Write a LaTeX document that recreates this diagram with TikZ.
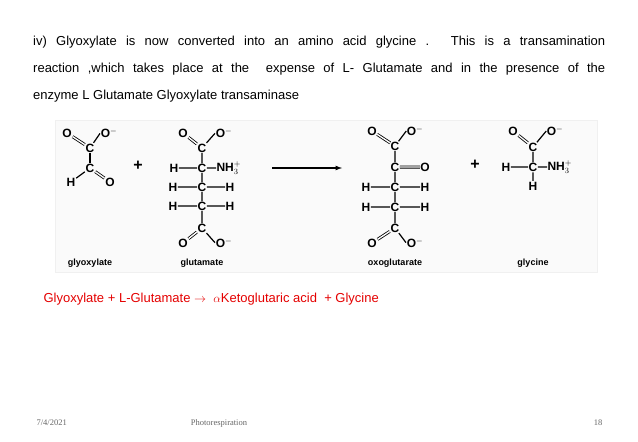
\documentclass[tikz,border=0pt]{standalone}
\usepackage{fontspec}
\setmainfont{Liberation Sans}
\newfontfamily\serifft{Liberation Serif}
\begin{document}
\begin{tikzpicture}[x=1pt,y=-1pt,
  atm/.style={font=\bfseries\fontsize{12}{12}\selectfont,inner sep=0.3pt},
  bd/.style={line width=1.2pt,shorten >=0.5pt,shorten <=0.5pt},
  dbd/.style={double=black!2,line width=0.8pt,double distance=1.4pt,shorten >=0.5pt,shorten <=0.5pt},
  lab/.style={font=\bfseries\fontsize{9}{10}\selectfont}]
\useasboundingbox (0,0) rectangle (638,442);
\fill[white] (0,0) rectangle (638,442);
\node[anchor=north west,text width=572pt,align=justify,inner sep=0pt,font=\fontsize{13}{27}\selectfont] (txt) at (33,36)
{iv) Glyoxylate is now converted into an amino acid glycine . This is a transamination\linebreak reaction ,which takes place at the\ \ expense of L- Glutamate and in the presence of the\linebreak enzyme L Glutamate Glyoxylate transaminase};
\node[fill=black!2,draw=black!6,minimum width=542pt,minimum height=152pt,anchor=north west,inner sep=0pt] (box) at (55,120) {};
% glyoxylate
\node[atm] (g1) at (90,148) {C}; \node[atm] (g1a) at (67,133) {O}; \node[atm] (g1b) at (109,133) {O$^{\mathbf-}$};
\node[atm] (g2) at (90,168) {C}; \node[atm] (g2h) at (71,182) {H}; \node[atm] (g2o) at (110,182) {O};
\draw[dbd] (g1)--(g1a); \draw[bd] (g1)--(g1b.west); \draw[bd] (g1)--(g2);
\draw[bd] (g2)--(g2h); \draw[dbd] (g2)--(g2o);
\node[lab] (l1) at (90,263) {glyoxylate};
\node[font=\bfseries\fontsize{16}{16}\selectfont] (p1) at (138,166) {+};
% glutamate
\node[atm] (u1) at (202,148) {C}; \node[atm] (u1a) at (183,133) {O}; \node[atm] (u1b) at (224,133) {O$^{\mathbf-}$};
\node[atm] (u2) at (202,168) {C}; \node[atm] (u2h) at (174,168) {H}; \node[atm,anchor=west] (u2n) at (216,168) {NH$_3^+$};
\node[atm] (u3) at (202,187) {C}; \node[atm] (u3h) at (173,187) {H}; \node[atm] (u3k) at (230,187) {H};
\node[atm] (u4) at (202,206) {C}; \node[atm] (u4h) at (173,206) {H}; \node[atm] (u4k) at (230,206) {H};
\node[atm] (u5) at (202,228) {C}; \node[atm] (u5a) at (183,243) {O}; \node[atm] (u5b) at (224,243) {O$^{\mathbf-}$};
\draw[dbd] (u1)--(u1a); \draw[bd] (u1)--(u1b.west);
\draw[bd] (u1)--(u2) (u2)--(u3) (u3)--(u4) (u4)--(u5) (u2)--(u2h) (u2)--(u2n.west) (u3)--(u3h) (u3)--(u3k) (u4)--(u4h) (u4)--(u4k) (u5)--(u5b.west);
\draw[dbd] (u5)--(u5a);
\node[lab] (l2) at (202,263) {glutamate};
% arrow
\coordinate (a1) at (272,168); \coordinate (a2) at (342,168);
\draw[line width=1.2pt,-latex] (a1)--(a2);
% oxoglutarate
\node[atm] (o1) at (395,146) {C}; \node[atm] (o1a) at (372,131) {O}; \node[atm] (o1b) at (415,131) {O$^{\mathbf-}$};
\node[atm] (o2) at (395,167) {C}; \node[atm] (o2o) at (425,167) {O};
\node[atm] (o3) at (395,187) {C}; \node[atm] (o3h) at (366,187) {H}; \node[atm] (o3k) at (425,187) {H};
\node[atm] (o4) at (395,207) {C}; \node[atm] (o4h) at (366,207) {H}; \node[atm] (o4k) at (425,207) {H};
\node[atm] (o5) at (395,228) {C}; \node[atm] (o5a) at (372,243) {O}; \node[atm] (o5b) at (415,243) {O$^{\mathbf-}$};
\draw[dbd] (o1)--(o1a) (o2)--(o2o) (o5)--(o5a);
\draw[bd] (o1)--(o1b.west) (o1)--(o2) (o2)--(o3) (o3)--(o4) (o4)--(o5) (o3)--(o3h) (o3)--(o3k) (o4)--(o4h) (o4)--(o4k) (o5)--(o5b.west);
\node[lab] (l3) at (395,263) {oxoglutarate};
\node[font=\bfseries\fontsize{16}{16}\selectfont] (p2) at (475,165) {+};
% glycine
\node[atm] (y1) at (533,147) {C}; \node[atm] (y1a) at (513,131) {O}; \node[atm] (y1b) at (555,131) {O$^{\mathbf-}$};
\node[atm] (y2) at (533,167) {C}; \node[atm] (y2h) at (506,167) {H}; \node[atm,anchor=west] (y2n) at (547,167) {NH$_3^+$};
\node[atm] (y3) at (533,186) {H};
\draw[dbd] (y1)--(y1a);
\draw[bd] (y1)--(y1b.west) (y1)--(y2) (y2)--(y2h) (y2)--(y2n.west) (y2)--(y3);
\node[lab] (l4) at (533,263) {glycine};
% equation
\node[anchor=west,text=red!90!black,font=\fontsize{13}{15}\selectfont] (eq) at (40,299)
{Glyoxylate + L-Glutamate $\rightarrow$\ \ $\alpha$Ketoglutaric acid\ \ + Glycine};
% footer
\node[anchor=west,font=\serifft\fontsize{8.5}{9}\selectfont,text=black!60] (f1) at (33,423) {7/4/2021};
\node[font=\serifft\fontsize{8.5}{9}\selectfont,text=black!60] (f2) at (219,423) {Photorespiration};
\node[anchor=east,font=\serifft\fontsize{8.5}{9}\selectfont,text=black!60] (f3) at (606,423) {18};
\end{tikzpicture}
\end{document}
